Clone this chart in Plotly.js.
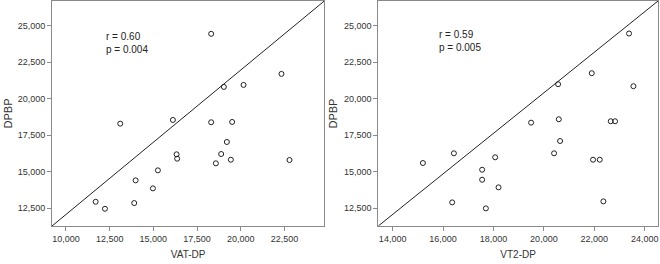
<!DOCTYPE html>
<html>
<head>
<meta charset="utf-8">
<script src="https://cdn.plot.ly/plotly-3.0.1.min.js"></script>
<style>html,body{margin:0;padding:0;background:#fff;}#chart{width:660px;height:264px;}</style>
</head>
<body>
<div id="chart"></div>
<script>
// Left panel: VAT-DP vs DPBP
const vatDP = [18308, 22330, 19034, 20160, 13105, 16118, 18308, 19508, 19205, 16329, 16363,
               18880, 18577, 19434, 22790, 15260, 13985, 14974, 11698, 12230, 13905];
const dpbpLeft = [24451, 21708, 20816, 20953, 18299, 18553, 18395, 18416, 17044, 16200, 15899,
                  16221, 15583, 15830, 15809, 15103, 14417, 13868, 12949, 12469, 12860];

// Right panel: VT2-DP vs DPBP
const vt2DP = [23378, 21899, 20564, 23552, 19493, 20592, 22652, 22823, 20643, 20405, 21951,
               22216, 16430, 15201, 18067, 17551, 17551, 18201, 16362, 17698, 22360];
const dpbpRight = [24472, 21756, 21001, 20864, 18368, 18601, 18464, 18464, 17112, 16269, 15830,
                   15830, 16269, 15603, 15995, 15144, 14458, 13937, 12908, 12497, 12977];

// Axis ranges and tick labels
const xRangeLeft = [9200, 24780];
const xRangeRight = [13430, 24527];
const yRange = [11290, 26700];
const xTicksLeft = [10000, 12500, 15000, 17500, 20000, 22500];
const xTickTextLeft = ["10,000", "12,500", "15,000", "17,500", "20,000", "22,500"];
const xTicksRight = [14000, 16000, 18000, 20000, 22000, 24000];
const xTickTextRight = ["14,000", "16,000", "18,000", "20,000", "22,000", "24,000"];
const yTicks = [12500, 15000, 17500, 20000, 22500, 25000];
const yTickText = ["12,500", "15,000", "17,500", "20,000", "22,500", "25,000"];

const statsLeft = ["r = 0.60", "p = 0.004"];
const statsRight = ["r = 0.59", "p = 0.005"];

const font = "Liberation Sans, Arial, Helvetica, sans-serif";
const frame = "#8a8a8a";

const markerStyle = {symbol: "circle-open", size: 5, color: "#222", line: {width: 1, color: "#222"}};

const traces = [
  {x: xRangeLeft, y: yRange, mode: "lines", line: {color: "#222", width: 1}, xaxis: "x", yaxis: "y", hoverinfo: "skip"},
  {x: vatDP, y: dpbpLeft, mode: "markers", marker: markerStyle, xaxis: "x", yaxis: "y"},
  {x: xRangeRight, y: yRange, mode: "lines", line: {color: "#222", width: 1}, xaxis: "x2", yaxis: "y2", hoverinfo: "skip"},
  {x: vt2DP, y: dpbpRight, mode: "markers", marker: markerStyle, xaxis: "x2", yaxis: "y2"}
];

function axisBase() {
  return {
    showgrid: false, zeroline: false, showline: true, mirror: true,
    linecolor: frame, linewidth: 1, ticks: "outside", ticklen: 4, tickcolor: frame,
    tickfont: {family: font, size: 9, color: "#333"}
  };
}

const layout = {
  width: 660, height: 264,
  margin: {l: 52, r: 2, t: 1, b: 38},
  paper_bgcolor: "#fff", plot_bgcolor: "#fff",
  showlegend: false,
  xaxis: Object.assign(axisBase(), {
    domain: [0, 0.4493], range: xRangeLeft, tickvals: xTicksLeft, ticktext: xTickTextLeft,
    anchor: "y", title: {text: "VAT-DP", font: {family: font, size: 10, color: "#333"}, standoff: 8}
  }),
  yaxis: Object.assign(axisBase(), {
    domain: [0, 1], range: yRange, tickvals: yTicks, ticktext: yTickText,
    anchor: "x", title: {text: "DPBP", font: {family: font, size: 11, color: "#333"}, standoff: 2}
  }),
  xaxis2: Object.assign(axisBase(), {
    domain: [0.5384, 1], range: xRangeRight, tickvals: xTicksRight, ticktext: xTickTextRight,
    anchor: "y2", title: {text: "VT2-DP", font: {family: font, size: 10, color: "#333"}, standoff: 8}
  }),
  yaxis2: Object.assign(axisBase(), {
    domain: [0, 1], range: yRange, tickvals: yTicks, ticktext: yTickText,
    anchor: "x2", title: {text: "DPBP", font: {family: font, size: 11, color: "#333"}, standoff: 4}
  }),
  annotations: [
    {xref: "x domain", yref: "y domain", x: 0.191, y: 0.813, xanchor: "left", yanchor: "middle", align: "left",
     text: statsLeft.join("<br>"), showarrow: false, font: {family: font, size: 10, color: "#222"}},
    {xref: "x2 domain", yref: "y2 domain", x: 0.21, y: 0.822, xanchor: "left", yanchor: "middle", align: "left",
     text: statsRight.join("<br>"), showarrow: false, font: {family: font, size: 10, color: "#222"}}
  ]
};

Plotly.newPlot("chart", traces, layout, {staticPlot: true, displayModeBar: false});
</script>
</body>
</html>
